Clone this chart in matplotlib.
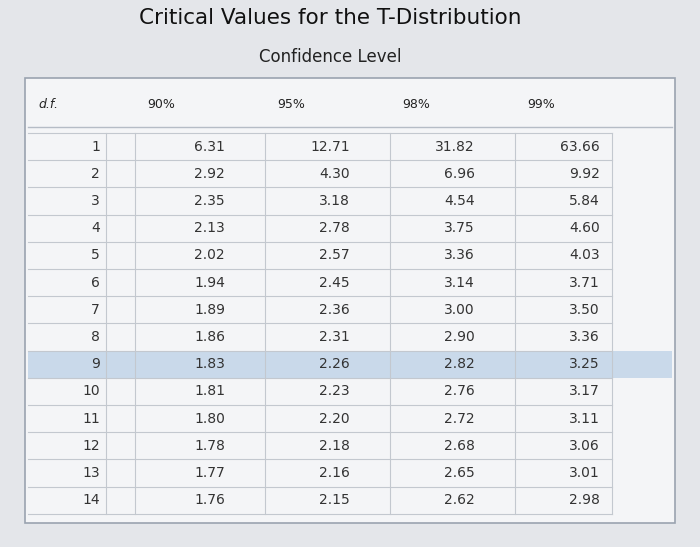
import matplotlib.pyplot as plt
from matplotlib.patches import Rectangle

# -------------------------------------------------
# DATA
# -------------------------------------------------
title = "Critical Values for the T-Distribution"
subtitle = "Confidence Level"
headers = ["d.f.", "90%", "95%", "98%", "99%"]
df_vals = list(range(1, 15))
t90 = ["6.31", "2.92", "2.35", "2.13", "2.02", "1.94", "1.89", "1.86", "1.83", "1.81", "1.80", "1.78", "1.77", "1.76"]
t95 = ["12.71", "4.30", "3.18", "2.78", "2.57", "2.45", "2.36", "2.31", "2.26", "2.23", "2.20", "2.18", "2.16", "2.15"]
t98 = ["31.82", "6.96", "4.54", "3.75", "3.36", "3.14", "3.00", "2.90", "2.82", "2.76", "2.72", "2.68", "2.65", "2.62"]
t99 = ["63.66", "9.92", "5.84", "4.60", "4.03", "3.71", "3.50", "3.36", "3.25", "3.17", "3.11", "3.06", "3.01", "2.98"]
highlight_df = 9

# -------------------------------------------------
# LAYOUT (pixel coords)
# -------------------------------------------------
fig = plt.figure(figsize=(7, 5.47), dpi=100)
ax = fig.add_axes([0, 0, 1, 1])
ax.set_xlim(0, 700)
ax.set_ylim(547, 0)
ax.axis("off")
fig.patch.set_facecolor("#e4e6ea")

ax.add_patch(Rectangle((25, 78), 650, 445, facecolor="#f4f5f7", edgecolor="#9aa3b0", lw=1.2))

col_edges = [28, 135, 265, 390, 515, 640]
row_top = 133
row_h = 27.2
ax.plot([28, 672], [127, 127], color="#b5bcc6", lw=1)

# header texts
ax.text(38, 104, headers[0], fontsize=9, style="italic", va="center", color="#222")
for i, h in enumerate(headers[1:]):
    ax.text(col_edges[i + 1] + 12, 104, h, fontsize=9, va="center", color="#222")

cols = [t90, t95, t98, t99]
for r, d in enumerate(df_vals):
    y0 = row_top + r * row_h
    yc = y0 + row_h / 2
    if d == highlight_df:
        ax.add_patch(Rectangle((28, y0), 644, row_h, facecolor="#c9d9ea", edgecolor="none"))
    ax.plot([28, 612], [y0 + row_h, y0 + row_h], color="#c3c8cf", lw=0.8)
    ax.text(100, yc, str(d), fontsize=10, ha="right", va="center", color="#333")
    for c, vals in enumerate(cols):
        ax.text(col_edges[c + 2] - 40, yc, vals[r], fontsize=10, ha="right", va="center", color="#333")

bottom = row_top + len(df_vals) * row_h
ax.plot([28, 612], [row_top, row_top], color="#c3c8cf", lw=0.8)
for x in [106, 135, 265, 390, 515, 612]:
    ax.plot([x, x], [row_top, bottom], color="#c3c8cf", lw=0.8)

ax.text(330, 18, title, fontsize=15.5, fontweight="medium", ha="center", va="center", color="#111")
ax.text(330, 57, subtitle, fontsize=12, ha="center", va="center", color="#222")

plt.savefig("out.png", dpi=100, facecolor=fig.get_facecolor())
